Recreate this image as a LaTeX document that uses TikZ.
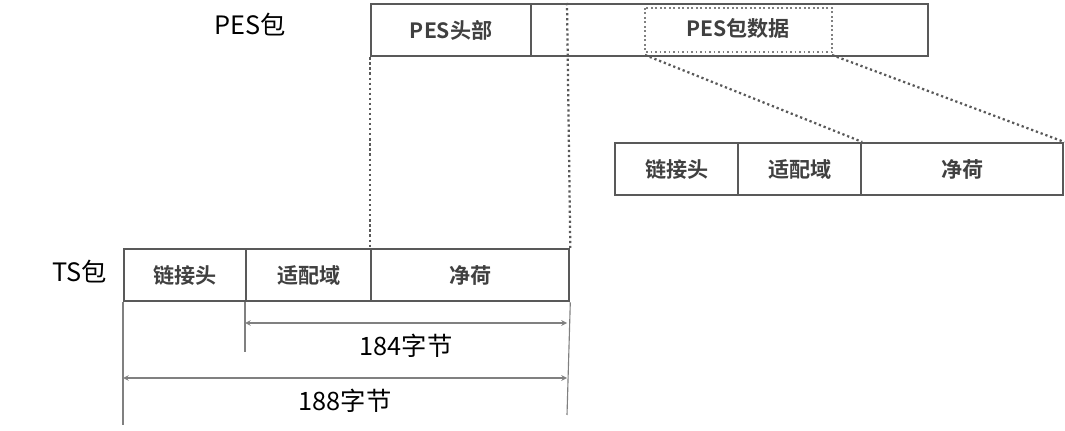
\documentclass[tikz,border=0pt]{standalone}
\usepackage{fontspec}
\setmainfont{Noto Sans CJK SC}
\newfontfamily\boldcjk{Noto Sans CJK SC Bold}
\definecolor{boxgray}{HTML}{595959}
\definecolor{txtgray}{HTML}{404040}
\tikzset{
  field/.style={draw=boxgray,line width=1.6pt,minimum height=1.3cm,inner sep=0pt,
    text=txtgray,font=\boldcjk\fontsize{15}{15}\selectfont,anchor=north west},
  guide/.style={boxgray,line width=1.6pt,dotted},
  dim/.style={gray,line width=0.8pt},
  lbl/.style={font=\fontsize{18}{18}\selectfont,text=black}
}
\begin{document}
\begin{tikzpicture}[x=0.025cm,y=-0.025cm]
  \useasboundingbox (0,0) rectangle (1065,431);
  % PES packet
  \node[field,minimum width=4cm] (peshead) at (370,3) {PES头部};
  \node[field,minimum width=9.925cm] (pesdata) at (530,3) {};
  \node[lbl] (peslbl) at (250,25) {PES包};
  \draw[gray,line width=1.2pt,dotted] (645,8) rectangle (832,52);
  \node[text=txtgray,font=\boldcjk\fontsize{15}{15}\selectfont] (pestxt) at (738,28) {PES包数据};
  % expanded payload
  \node[field,minimum width=3.075cm] (link2) at (614,142) {链接头};
  \node[field,minimum width=3.075cm] (adapt2) at (737,142) {适配域};
  \node[field,minimum width=5.05cm] (load2) at (860,142) {净荷};
  \draw[guide] (645,55) -- (adapt2.north east);
  \draw[guide] (832,55) -- (load2.north east);
  % TS packet
  \node[lbl] (tslbl) at (80,272) {TS包};
  \node[field,minimum width=3.05cm] (link) at (123,248) {链接头};
  \node[field,minimum width=3.125cm] (adapt) at (245,248) {适配域};
  \node[field,minimum width=4.95cm] (load) at (370,248) {净荷};
  \draw[guide] (peshead.south west) -- (load.north west);
  \draw[guide] (567,3) -- (load.north east);
  % sizes
  \coordinate (a1) at (245,352);
  \coordinate (b1) at (123,425);
  \coordinate (c1) at (567,415);
  \draw[dim] (adapt.south west) -- (a1);
  \draw[dim] (link.south west) -- (b1);
  \draw[dim] (load.south east) -- (c1);
  \draw[dim,<->,>=stealth] (245,323) -- node[lbl,below=4pt] {184字节} (567,323);
  \draw[dim,<->,>=stealth] (123,378) -- node[lbl,below=4pt] {188字节} (567,378);
\end{tikzpicture}
\end{document}
